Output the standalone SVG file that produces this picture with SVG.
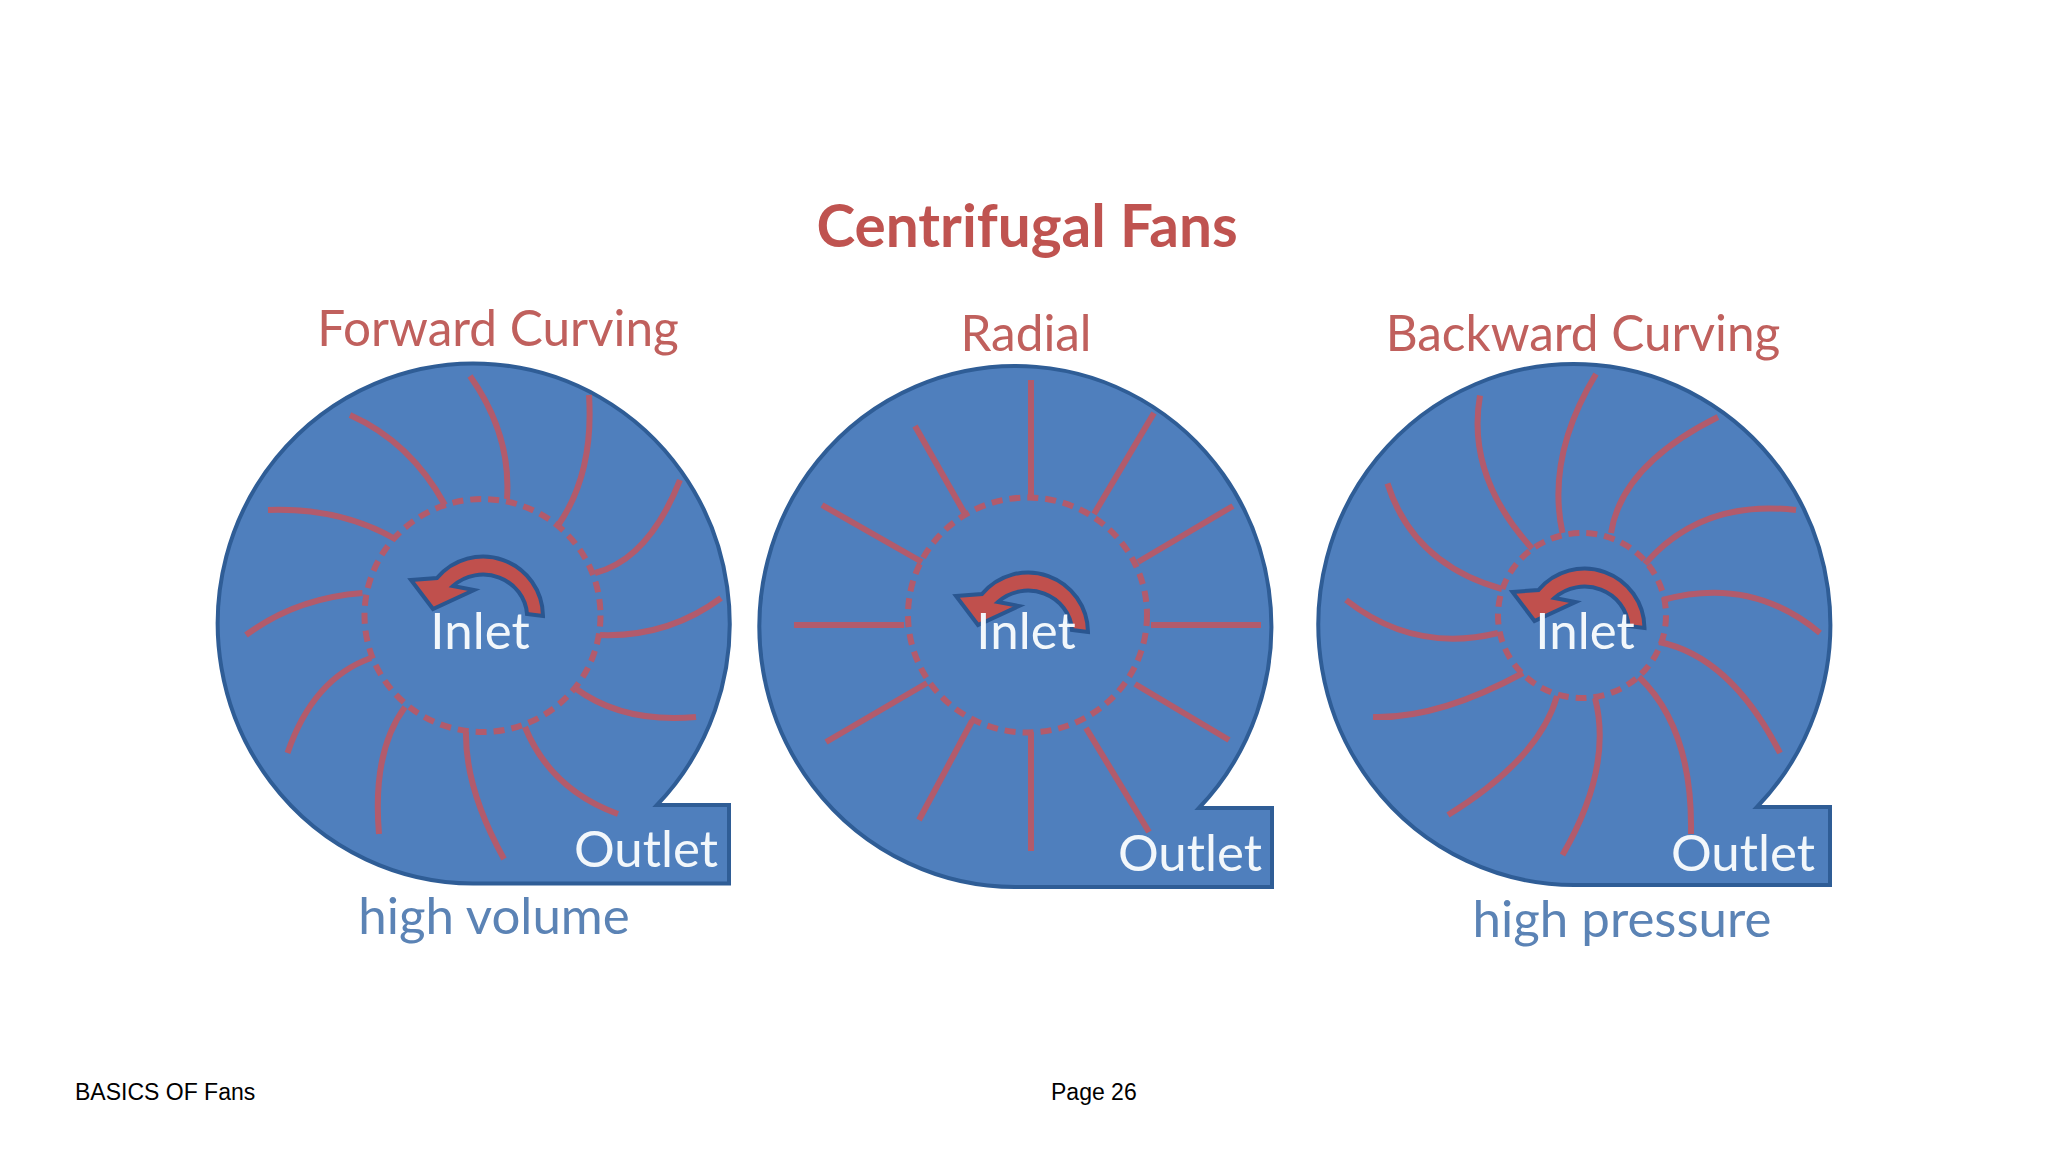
<svg xmlns="http://www.w3.org/2000/svg" width="2048" height="1152" viewBox="0 0 2048 1152">
<defs>
<style>
.body{fill:#4f7fbd;stroke:#2f5d96;stroke-width:4;stroke-linejoin:miter}
.hub{fill:none;stroke:#b25b6c;stroke-width:6;stroke-dasharray:11 7}
.blade{fill:none;stroke:#b25b6c;stroke-width:6;stroke-linecap:butt}
.rot{fill:#c0504d;stroke:#2a5690;stroke-width:4;stroke-linejoin:miter}
text{font-family:Lato,"Open Sans","Liberation Sans",sans-serif}
.title{font-size:58.500px;font-weight:700;fill:#bf5350;text-anchor:middle}
.sub{font-size:49.500px;fill:#c0605d;text-anchor:middle}
.note{font-size:51px;fill:#5b83b5;text-anchor:middle}
.lab{font-size:51px;fill:#f2f7fb;text-anchor:middle}
.foot{font-family:"Liberation Sans",Arial,sans-serif;font-size:23px;fill:#000}
</style>
<path id="arrow" d="M411 580L437 578A60 60 0 0 1 543 616L527 614A44 42 0 0 0 453 586L474 590L433 609Z"/>
</defs>
<rect width="2048" height="1152" fill="#ffffff"/>
<text class="title" x="1027" y="247">Centrifugal Fans</text>
<text class="sub" x="498" y="346">Forward Curving</text>
<text class="sub" x="1026" y="351">Radial</text>
<text class="sub" x="1583" y="351">Backward Curving</text>
<text class="note" x="494" y="934">high volume</text>
<text class="note" x="1622" y="937">high pressure</text>
<g id="fan-forward">
<path class="body" d="M657 805H729V883.500H473A256 260 0 1 1 657 805Z"/>
<ellipse class="hub" cx="482.500" cy="615.500" rx="118" ry="116.500"/>
<g id="blades-forward">
<path class="blade" d="M470 376Q511.500 434.500 507 499"/>
<path class="blade" d="M589 395Q594 472.500 559 524"/>
<path class="blade" d="M680 480Q648.500 559.500 595 573"/>
<path class="blade" d="M721 598Q667.500 637.500 600 635"/>
<path class="blade" d="M696 717Q622.500 723.500 575 688"/>
<path class="blade" d="M618 814Q550.500 789.500 525 727"/>
<path class="blade" d="M504 859Q465 788.500 466 732"/>
<path class="blade" d="M379 834Q372 751.500 405 707"/>
<path class="blade" d="M287.500 753Q313 678.500 371 658"/>
<path class="blade" d="M246 635Q296 598 362.500 593"/>
<path class="blade" d="M268 510Q340.500 507.500 395 539"/>
<path class="blade" d="M350 415Q410.500 442 445 505"/>
</g>
<use href="#arrow" class="rot"/>
<text class="lab" x="480" y="649">Inlet</text>
<text class="lab" x="646" y="867">Outlet</text>
</g>
<g id="fan-radial">
<path class="body" d="M1199 808H1272V887H1015.500A256 260.500 0 1 1 1199 808Z"/>
<ellipse class="hub" cx="1027.500" cy="615" rx="119.500" ry="117.500"/>
<g id="blades-radial">
<path class="blade" d="M1031 380V499"/>
<path class="blade" d="M1031 732V851"/>
<path class="blade" d="M794 625H904"/>
<path class="blade" d="M1151 625H1261"/>
<path class="blade" d="M915 426L965 514"/>
<path class="blade" d="M1154 413L1094 514"/>
<path class="blade" d="M822 505L922 562"/>
<path class="blade" d="M1233 506L1138 562"/>
<path class="blade" d="M826 742L927 683"/>
<path class="blade" d="M1229 740L1135 684"/>
<path class="blade" d="M919 820L972 721"/>
<path class="blade" d="M1149 832L1086 728"/>
</g>
<use href="#arrow" class="rot" transform="translate(545 16)"/>
<text class="lab" x="1026" y="649">Inlet</text>
<text class="lab" x="1190" y="871">Outlet</text>
</g>
<g id="fan-backward">
<path class="body" d="M1757 807H1830V885H1574A256 260.500 0 1 1 1757 807Z"/>
<ellipse class="hub" cx="1582" cy="615.500" rx="84" ry="82.500"/>
<g id="blades-backward">
<path class="blade" d="M1596 374Q1546 456.500 1562.500 533"/>
<path class="blade" d="M1718 417Q1621.500 465 1611 533"/>
<path class="blade" d="M1796 510Q1701.500 499 1645 564"/>
<path class="blade" d="M1820 633Q1751 575.500 1662.500 600"/>
<path class="blade" d="M1780 753Q1730.500 656.500 1659 642"/>
<path class="blade" d="M1691 834Q1693 728.500 1639 677"/>
<path class="blade" d="M1562.500 855Q1613 767.500 1595 698"/>
<path class="blade" d="M1448 815Q1539.500 758.500 1557 696"/>
<path class="blade" d="M1373 717Q1438 719 1523 673"/>
<path class="blade" d="M1346 600Q1414 653.500 1498 633"/>
<path class="blade" d="M1387.500 483.500Q1413 564 1502 589"/>
<path class="blade" d="M1480 395.500Q1466 476 1532 548.500"/>
</g>
<use href="#arrow" class="rot" transform="translate(1101.500 12)"/>
<text class="lab" x="1585" y="649">Inlet</text>
<text class="lab" x="1743" y="871">Outlet</text>
</g>
<text class="foot" x="75" y="1100">BASICS OF Fans</text>
<text class="foot" x="1051" y="1100">Page 26</text>
</svg>
